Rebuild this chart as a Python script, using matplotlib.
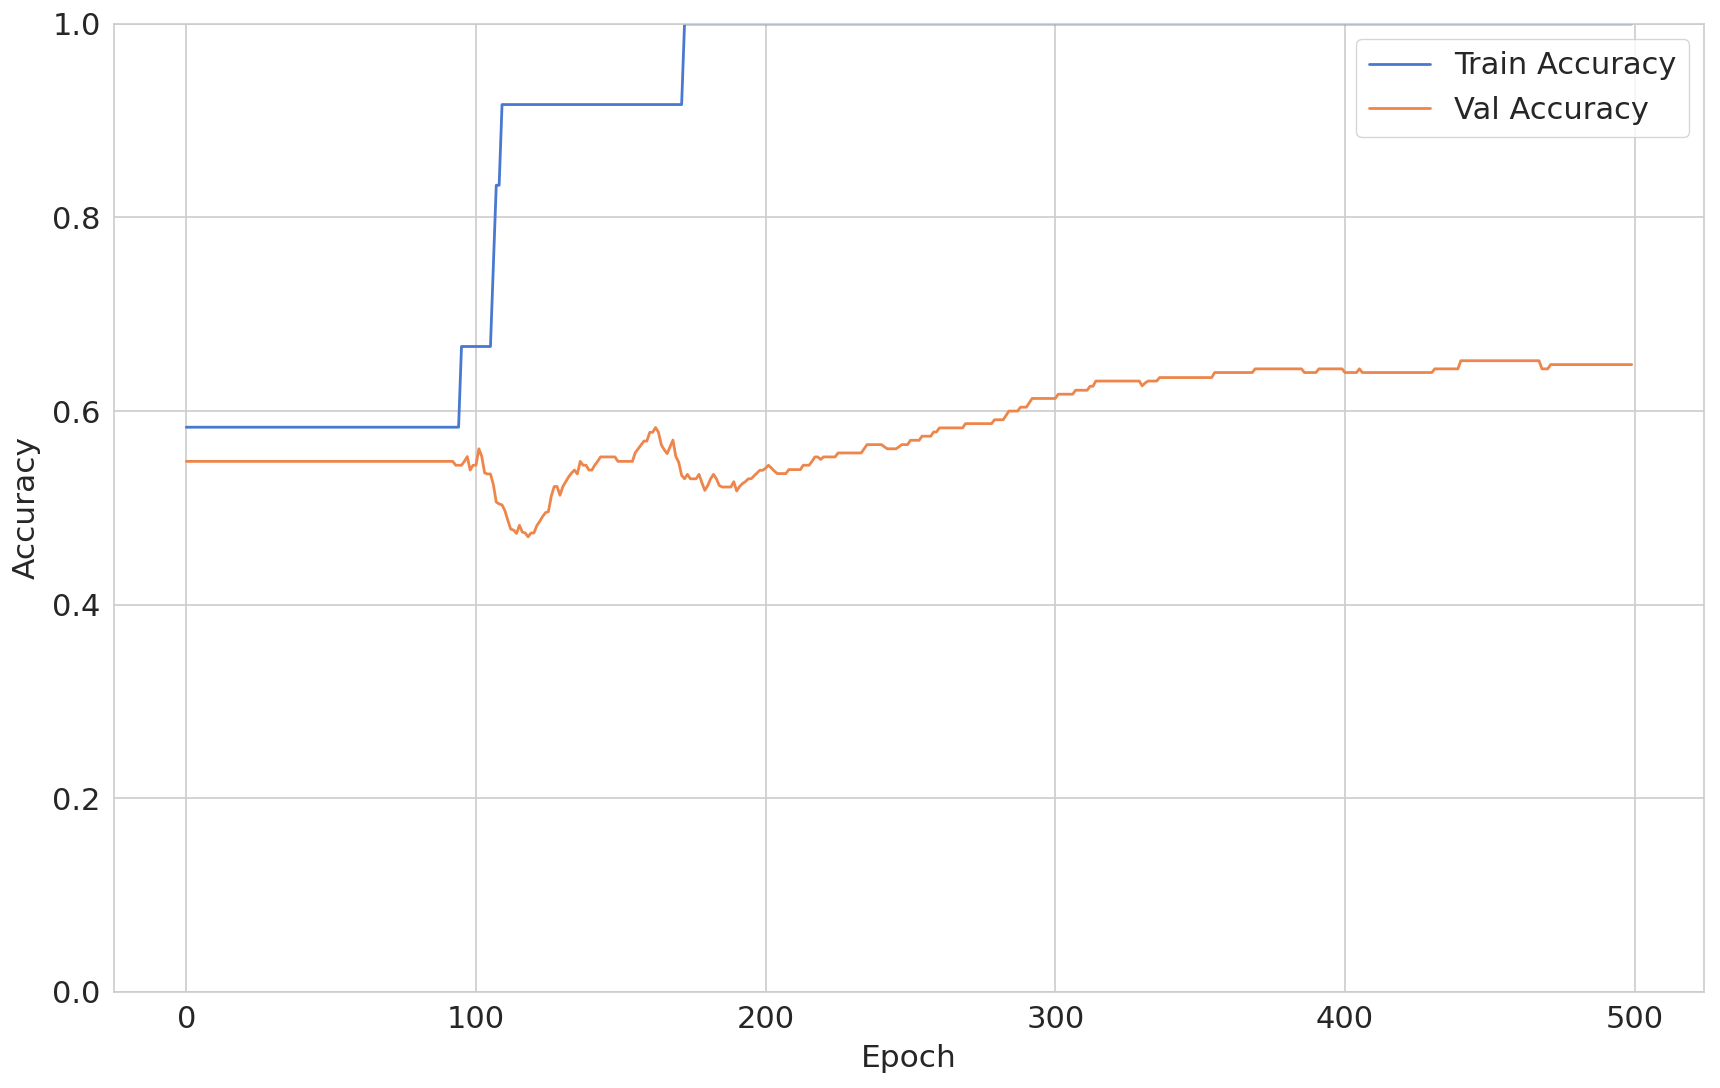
import matplotlib
matplotlib.use("Agg")
import matplotlib.pyplot as plt
import numpy as np
import seaborn as sns

# accuracy per epoch, stored as (value, number of epochs it holds)
train_runs = [
    (0.5833, 95),
    (0.6667, 11),
    (0.75, 1),
    (0.8333, 2),
    (0.9167, 63),
    (1.0, 328),
]

val_runs = [
    (0.548, 93), (0.544, 3), (0.548, 1), (0.553, 1), (0.539, 1), (0.544, 2),
    (0.561, 1), (0.553, 1), (0.536, 1), (0.535, 2), (0.524, 1), (0.506, 1),
    (0.504, 1), (0.503, 1), (0.497, 1), (0.487, 1), (0.478, 1), (0.477, 1),
    (0.4735, 1), (0.482, 1), (0.475, 1), (0.474, 1), (0.470, 1), (0.474, 2),
    (0.4815, 1), (0.486, 1), (0.491, 1), (0.495, 1), (0.496, 1), (0.512, 1),
    (0.522, 2), (0.513, 1), (0.522, 1), (0.527, 1), (0.532, 1), (0.536, 1),
    (0.539, 1), (0.535, 1), (0.548, 1), (0.544, 2), (0.539, 2), (0.544, 1),
    (0.548, 1), (0.5526, 6), (0.548, 6), (0.557, 1), (0.561, 1), (0.565, 1),
    (0.569, 2), (0.578, 2), (0.583, 1), (0.578, 1), (0.565, 1), (0.560, 1),
    (0.556, 1), (0.563, 1), (0.570, 1), (0.553, 1), (0.547, 1), (0.5336, 1),
    (0.530, 1), (0.5346, 1), (0.530, 3), (0.5346, 1), (0.526, 1), (0.518, 1),
    (0.523, 1), (0.530, 1), (0.5346, 1), (0.530, 1), (0.523, 1), (0.5215, 4),
    (0.527, 1), (0.5174, 1), (0.522, 1), (0.525, 1), (0.527, 1), (0.530, 2),
    (0.533, 1), (0.536, 1), (0.5388, 2), (0.541, 1), (0.544, 1), (0.541, 1),
    (0.538, 1), (0.5354, 4), (0.5395, 5), (0.544, 3), (0.548, 1), (0.5526, 2),
    (0.550, 1), (0.5526, 5), (0.5567, 9), (0.561, 1), (0.5653, 6), (0.563, 1),
    (0.561, 4), (0.563, 1), (0.5653, 3), (0.5698, 4), (0.574, 4), (0.5784, 2),
    (0.5826, 9), (0.587, 10), (0.591, 4), (0.5955, 1), (0.600, 4), (0.604, 3),
    (0.6085, 1), (0.613, 9), (0.6174, 6), (0.6215, 5), (0.6256, 2), (0.631, 16),
    (0.626, 1), (0.629, 1), (0.631, 4), (0.6346, 19), (0.6398, 14), (0.6436, 17),
    (0.6398, 5), (0.6436, 9), (0.6398, 5), (0.6436, 1), (0.6398, 25), (0.6436, 9),
    (0.652, 28), (0.6436, 3), (0.648, 29),
]


def expand(runs):
    vals = [v for v, n in runs]
    counts = [n for v, n in runs]
    return np.repeat(vals, counts)


train_acc = expand(train_runs)
val_acc = expand(val_runs)
epochs = np.arange(len(train_acc))

sns.set_theme(style="whitegrid", palette="muted")
plt.rcParams['font.family'] = ['DejaVu Sans']
plt.rcParams['grid.linewidth'] = 1.2
plt.rcParams['axes.linewidth'] = 1.2

fig = plt.figure(figsize=(17.2, 10.88), dpi=100)
ax = fig.add_axes([0.0663, 0.0885, 0.9244, 0.8895])

colors = sns.color_palette("muted")
ax.plot(epochs, train_acc, color=colors[0], lw=2, label='Train Accuracy')
ax.plot(epochs, val_acc, color=colors[1], lw=2, label='Val Accuracy')

ax.set_ylim(0, 1.0)
ax.set_xlabel('Epoch', fontsize=22.5, labelpad=7)
ax.set_ylabel('Accuracy', fontsize=22.5, labelpad=8)
ax.tick_params(labelsize=22)
ax.legend(loc='upper right', fontsize=22)

fig.savefig('out.png', dpi=100)
